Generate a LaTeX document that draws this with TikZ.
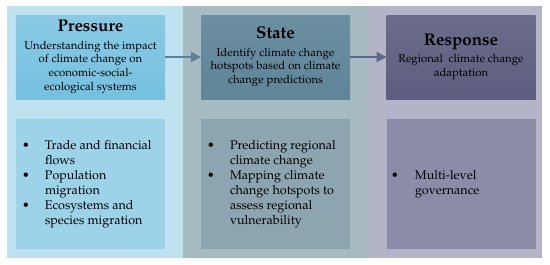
\documentclass[tikz,border=0pt]{standalone}
\usepackage[T1]{fontenc}
\usepackage{mathpazo}
\usetikzlibrary{arrows.meta}
\definecolor{pbg}{HTML}{BEE2F0}
\definecolor{ptop}{HTML}{74C1E0}
\definecolor{pbot}{HTML}{9DD3E8}
\definecolor{sbg}{HTML}{A7BBC3}
\definecolor{stop}{HTML}{5F8599}
\definecolor{sbot}{HTML}{8CA5B1}
\definecolor{rbg}{HTML}{B3B4C8}
\definecolor{rtop}{HTML}{5E5F80}
\definecolor{rbot}{HTML}{8C8CA8}
\definecolor{arrA}{HTML}{5D8196}
\definecolor{arrB}{HTML}{5E6786}
\tikzset{
  box/.style={draw=none,inner sep=0pt,outer sep=0pt,minimum width=149bp,align=center,text=black},
  topbox/.style={box,minimum height=84bp,font=\fontsize{11.4}{13.8}\selectfont},
  botbox/.style={box,minimum height=130bp},
  listnode/.style={inner sep=0pt,outer sep=0pt,anchor=west,text=black,align=left,font=\fontsize{12.6}{15}\selectfont},
  flow/.style={line width=2bp,-{Triangle[length=10bp,width=10bp]}},
}
\newcommand\ttl[1]{{\fontsize{17}{19}\selectfont\bfseries #1}}
\begin{document}
\begin{tikzpicture}[x=1bp,y=-1bp]
\useasboundingbox (0,0) rectangle (550,264);
% panels
\fill[pbg] (7,6) rectangle (183,258);
\fill[sbg] (183,6) rectangle (368,258);
\fill[rbg] (368,6) rectangle (542,258);
% top boxes
\node[topbox,top color=ptop!85!white,bottom color=ptop] (p) at (90.5,57)
  {\ttl{Pressure}\\[3.5bp]Understanding the impact\\of climate change on\\economic-social-\\ecological systems};
\node[topbox,top color=stop!92!white,bottom color=stop] (s) at (275.5,57)
  {\ttl{State}\\[3.5bp]Identify climate change\\hotspots based on climate\\change predictions};
\node[topbox,top color=rtop!92!white,bottom color=rtop] (r) at (461,57)
  {\ttl{Response}\\[3.5bp]Regional\ \ climate change\\adaptation};
% bottom boxes
\node[botbox,fill=pbot] (pb) at (90.5,184) {};
\node[botbox,fill=sbot] (sb) at (275.5,184) {};
\node[botbox,fill=rbot] (rb) at (461,184) {};
% lists
\node[listnode] (pl) at (22,184) {\begin{tabular}{@{}p{23bp}@{}l@{}}
\textbullet & Trade and financial\\ & flows\\
\textbullet & Population\\ & migration\\
\textbullet & Ecosystems and\\ & species migration\end{tabular}};
\node[listnode] (sl) at (207,184) {\begin{tabular}{@{}p{23bp}@{}l@{}}
\textbullet & Predicting regional\\ & climate change\\
\textbullet & Mapping climate\\ & change hotspots to\\ & assess regional\\ & vulnerability\end{tabular}};
\node[listnode] (rl) at (391,184) {\begin{tabular}{@{}p{24bp}@{}l@{}}
\textbullet & Multi-level\\ & governance\end{tabular}};
% arrows
\draw[flow,arrA] (p.east |- 0,57) -- (s.west |- 0,57);
\draw[flow,arrB] (s.east |- 0,57) -- (r.west |- 0,57);
\end{tikzpicture}
\end{document}
